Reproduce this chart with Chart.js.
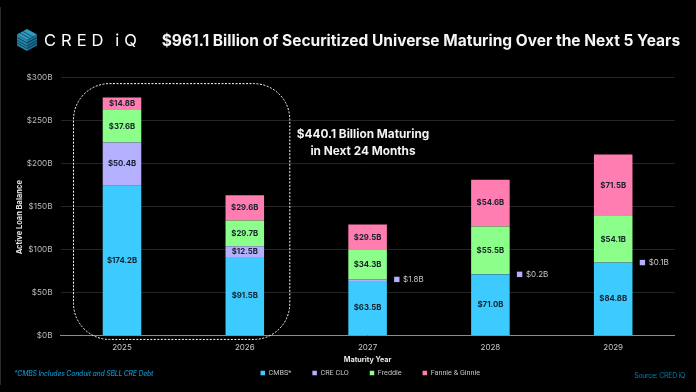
<!DOCTYPE html>
<html>
<head>
<meta charset="utf-8">
<script src="https://cdn.jsdelivr.net/npm/chart.js@4/dist/chart.umd.min.js"></script>
<style>
  html, body { margin: 0; background: #000; }
  #wrap { position: relative; width: 696px; height: 392px; overflow: hidden; background: #000; font-family: Inter, sans-serif; }
  #wrap div, #wrap svg { position: absolute; }
  #edge { left: 0; top: 7px; width: 1px; height: 378px; background: #2a2a2a; }
  #logoText { left: 44px; top: 29px; color: #fff; font-size: 16.5px; line-height: 22px; letter-spacing: 5px; word-spacing: -3px; font-weight: 400; white-space: nowrap; }
  #callout { left: 283px; top: 126px; width: 160px; text-align: center; color: #f2f2f2; font-size: 11.8px; line-height: 16.5px; font-weight: 700; }
  #note { left: 14px; top: 368px; color: #0a8cc0; font-size: 6.9px; line-height: 12px; font-weight: 500; letter-spacing: -0.2px; font-style: italic; white-space: nowrap; }
  #source { right: 11px; top: 370px; color: #0a7fb0; font-size: 7px; line-height: 12px; letter-spacing: -0.3px; white-space: nowrap; }
</style>
</head>
<body>
<div id="wrap">
  <canvas id="chart" width="696" height="392"></canvas>
  <div id="edge"></div>
  <svg style="left:16px;top:28px" width="22" height="24" viewBox="0 0 22 24">
    <polygon points="11,1 21,6.5 11,12 1,6.5" fill="#2f9cc4"/>
    <polygon points="1,6.5 11,12 11,23 1,17.5" fill="#2487ad"/>
    <polygon points="21,6.5 11,12 11,23 21,17.5" fill="#1b6f92"/>
    <path d="M1 9.5L11 15M1 12.5L11 18M1 15L11 20.5M21 9.5L11 15M21 12.5L11 18M21 15L11 20.5M4 5L14 10.5M7 3.5L17 9" stroke="#000" stroke-width=".5" fill="none"/>
  </svg>
  <div id="logoText">CRED iQ</div>
  <div id="callout">$440.1 Billion Maturing<br>in Next 24 Months</div>
  <div id="note">*CMBS Includes Conduit and SBLL CRE Debt</div>
  <div id="source">Source: CRED iQ</div>
</div>
<script>
const years = ['2025', '2026', '2027', '2028', '2029'];
const cmbs = [174.2, 91.5, 63.5, 71.0, 84.8];
const creClo = [50.4, 12.5, 1.8, 0.2, 0.1];
const freddie = [37.6, 29.7, 34.3, 55.5, 54.1];
const fannieGinnie = [14.8, 29.6, 29.5, 54.6, 71.5];

const FONT = 'Inter, sans-serif';
const money = v => '$' + v.toFixed(1) + 'B';

function series(label, data, color) {
  return { label, data, backgroundColor: color, borderWidth: 0, barPercentage: 0.314, categoryPercentage: 1 };
}

// segment values inside the bars, the tiny CRE CLO ones go beside the bar
const valueLabels = {
  id: 'valueLabels',
  afterDatasetsDraw(chart) {
    const ctx = chart.ctx;
    ctx.save();
    ctx.textBaseline = 'middle';
    chart.data.datasets.forEach((ds, i) => {
      chart.getDatasetMeta(i).data.forEach((bar, j) => {
        const v = ds.data[j];
        if (v < 5) {
          ctx.fillStyle = ds.backgroundColor;
          ctx.fillRect(bar.x + 26.5, bar.y - 2.7, 5.4, 5.4);
          ctx.fillStyle = '#c9c9c9';
          ctx.font = '400 8px ' + FONT;
          ctx.textAlign = 'left';
          ctx.fillText(money(v), bar.x + 35.5, bar.y);
        } else {
          ctx.fillStyle = '#14202a';
          ctx.font = '700 7.8px ' + FONT;
          ctx.textAlign = 'center';
          ctx.fillText(money(v), bar.x, (bar.y + bar.base) / 2);
        }
      });
    });
    ctx.restore();
  }
};

// dashed box round the next 24 months
const dashedBox = {
  id: 'dashedBox',
  afterDatasetsDraw(chart) {
    const { x, y } = chart.scales;
    const left = x.getPixelForValue(0) - 48.5;
    const right = x.getPixelForValue(1) + 45;
    const top = y.getPixelForValue(293);
    const bottom = y.getPixelForValue(-4.5);
    const ctx = chart.ctx;
    ctx.save();
    ctx.strokeStyle = '#ffffff';
    ctx.lineWidth = 1;
    ctx.setLineDash([2, 1.5]);
    ctx.beginPath();
    ctx.roundRect(left, top, right - left, bottom - top, 36);
    ctx.stroke();
    ctx.restore();
  }
};

// title and legend do not sit where Chart.js would put them in the original
const nudge = {
  id: 'nudge',
  afterLayout(chart) {
    chart.titleBlock.right += 5.5;
    chart.legend.left += 33;
    chart.legend.right += 33;
    chart.legend.top -= 16;
    chart.legend.bottom -= 16;
  }
};

new Chart(document.getElementById('chart'), {
  type: 'bar',
  data: {
    labels: years,
    datasets: [
      series('CMBS*', cmbs, '#3dcbff'),
      series('CRE CLO', creClo, '#b4b0ff'),
      series('Freddie', freddie, '#8cff8a'),
      series('Fannie & Ginnie', fannieGinnie, '#ff7db0')
    ]
  },
  plugins: [valueLabels, dashedBox, nudge],
  options: {
    responsive: false,
    animation: false,
    layout: { padding: { top: 32, right: 21.4, bottom: -10.5, left: 0 } },
    plugins: {
      title: {
        display: true,
        text: '$961.1 Billion of Securitized Universe Maturing Over the Next 5 Years',
        align: 'end',
        color: '#f5f5f5',
        font: { family: FONT, size: 15.5, weight: '700' },
        padding: { top: 0, bottom: 27 }
      },
      legend: {
        position: 'bottom',
        labels: { boxWidth: 4.5, boxHeight: 4.5, padding: 21, color: '#c4c4c4', font: { family: 'Roboto, sans-serif', size: 7.2 } }
      },
      tooltip: { enabled: false }
    },
    scales: {
      x: {
        stacked: true,
        grid: { display: false },
        border: { color: '#8c8c8c', width: 1 },
        ticks: { color: '#c9c9c9', font: { family: FONT, size: 8 }, padding: -1, maxRotation: 0 },
        title: { display: true, text: 'Maturity Year', color: '#e6e6e6', font: { family: FONT, size: 7.2, weight: '700' }, padding: { top: 4.5, bottom: 0 } }
      },
      y: {
        stacked: true,
        min: 0,
        max: 300,
        afterFit(scale) { scale.width = 60.6; },
        grid: { color: '#262626', drawTicks: false },
        border: { display: false },
        ticks: { stepSize: 50, color: '#bdbdbd', font: { family: FONT, size: 8.2 }, padding: 8, callback: v => '$' + v + 'B' },
        // trailing nbsp pushes the rotated text below the axis middle, as in the original
        title: { display: true, text: 'Active Loan Balance' + '\u00a0'.repeat(12), color: '#e6e6e6', font: { family: FONT, size: 7.5, weight: '700' }, padding: { top: 15, bottom: 0 } }
      }
    }
  }
});
</script>
</body>
</html>
